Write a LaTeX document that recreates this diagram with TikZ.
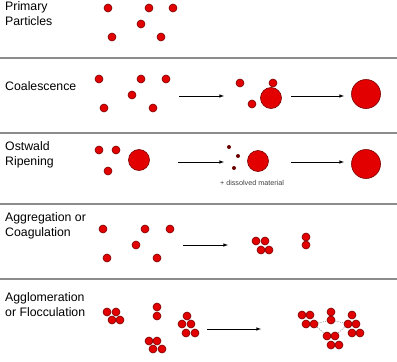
\documentclass[tikz,border=0pt]{standalone}
\usepackage{fontspec}
\setmainfont{Liberation Sans}
\usepackage{tikz}
\usetikzlibrary{arrows,positioning}
\definecolor{pred}{RGB}{226,0,0}
\definecolor{pedge}{RGB}{120,0,0}
\definecolor{sepgray}{RGB}{140,140,140}
\tikzset{
  particle/.style={circle,fill=pred,draw=pedge,line width=0.6pt,inner sep=0pt,minimum size=8pt},
  tiny/.style={circle,fill=pedge!90!black,inner sep=0pt,minimum size=4pt},
  drop/.style={circle,fill=pred,draw=pedge,line width=0.6pt,inner sep=0pt,minimum size=21pt},
  bigdrop/.style={circle,fill=pred,draw=pedge,line width=0.6pt,inner sep=0pt,minimum size=29pt},
  rowlabel/.style={anchor=west,align=left,inner sep=0pt,font=\fontsize{12.3}{15}\selectfont},
  sep/.style={draw=sepgray,line width=1.3pt},
  process/.style={-latex,line width=0.6pt},
  link/.style={draw=black!55,line width=0.5pt,dash pattern=on 1.2pt off 1.2pt}
}
\begin{document}
\begin{tikzpicture}[x=1pt,y=-1pt]
\useasboundingbox (0,0) rectangle (397,362);

% separators
\foreach \y [count=\i] in {58,133,204,279}
  \draw[sep] (0,\y) coordinate (sl\i) -- (397,\y) coordinate (sr\i);

% labels
\node[rowlabel] (primary) at (5,13.5) {Primary\\Particles};
\node[rowlabel] (coal) at (5,86) {Coalescence};
\node[rowlabel] (ostwald) at (5,154.5) {Ostwald\\Ripening};
\node[rowlabel] (aggr) at (5,225.5) {Aggregation or\\Coagulation};
\node[rowlabel] (agglo) at (5,304.5) {Agglomeration\\or Flocculation};

% primary particles
\foreach \x/\y [count=\i] in {108/8,149/8,173/8,141/24,112/37,161/37}
  \node[particle] (pp\i) at (\x,\y) {};

% coalescence
\foreach \x/\y [count=\i] in {99/79,141/79,166/79,132/95,104/108,153/108}
  \node[particle] (cs\i) at (\x,\y) {};
\node[drop] (cdrop) at (271,98) {};
\foreach \x/\y [count=\i] in {240/83,273/83,252/104}
  \node[particle] (cm\i) at (\x,\y) {};
\node[bigdrop] (cbig) at (366,94) {};
\coordinate (ca1) at (179,96);
\coordinate (ca2) at (224,96);
\coordinate (cb1) at (291,96);
\coordinate (cb2) at (344,96);
\draw[process] (ca1) -- (ca2);
\draw[process] (cb1) -- (cb2);

% ostwald ripening
\foreach \x/\y [count=\i] in {99/150,116/150,108/171}
  \node[particle] (os\i) at (\x,\y) {};
\node[drop] (odrop) at (139,160) {};
\foreach \x/\y [count=\i] in {229/147,238/156,234/168}
  \node[tiny] (ot\i) at (\x,\y) {};
\node[drop] (omid) at (258,161) {};
\node[font=\fontsize{7.2}{8}\selectfont,text=black!75] (dissolved) at (252,183) {+ dissolved material};
\node[bigdrop] (obig) at (366,164) {};
\coordinate (oa1) at (178,162);
\coordinate (oa2) at (224,162);
\coordinate (ob1) at (291,162);
\coordinate (ob2) at (344,162);
\draw[process] (oa1) -- (oa2);
\draw[process] (ob1) -- (ob2);

% aggregation
\foreach \x/\y [count=\i] in {103/229,145/229,170/229,136/245,107/258,157/258}
  \node[particle] (ag\i) at (\x,\y) {};
\coordinate (aa1) at (183,245);
\coordinate (aa2) at (228,245);
\draw[process] (aa1) -- (aa2);
\foreach \x/\y [count=\i] in {256/241,265/241,261/250,269/250}
  \node[particle] (ac\i) at (\x,\y) {};
\foreach \x/\y [count=\i] in {306/237,306/245}
  \node[particle] (ap\i) at (\x,\y) {};

% agglomeration
\foreach \x/\y [count=\i] in {107/312,116/312,112/320,120/320}
  \node[particle] (la\i) at (\x,\y) {};
\foreach \x/\y [count=\i] in {157/307,157/316}
  \node[particle] (lb\i) at (\x,\y) {};
\foreach \x/\y [count=\i] in {187/316,182/324,191/324,186/333,195/333}
  \node[particle] (lc\i) at (\x,\y) {};
\foreach \x/\y [count=\i] in {149/341,157/341,153/349,162/349}
  \node[particle] (ld\i) at (\x,\y) {};
\coordinate (lar1) at (207,329);
\coordinate (lar2) at (261,329);
\draw[process] (lar1) -- (lar2);
\foreach \x/\y [count=\i] in {302/315,310/315,306/324,314/324}
  \node[particle] (fa\i) at (\x,\y) {};
\foreach \x/\y [count=\i] in {331/312,331/320}
  \node[particle] (fb\i) at (\x,\y) {};
\foreach \x/\y [count=\i] in {352/315,348/324,356/324,352/333,360/333}
  \node[particle] (fc\i) at (\x,\y) {};
\foreach \x/\y [count=\i] in {327/336,335/336,331/345,339/345}
  \node[particle] (fd\i) at (\x,\y) {};
\draw[link] (fa4) -- (fb2);
\draw[link] (fb2) -- (fc2);
\draw[link] (fa4) -- (fd1);
\draw[link] (fd2) -- (fc2);
\end{tikzpicture}
\end{document}
